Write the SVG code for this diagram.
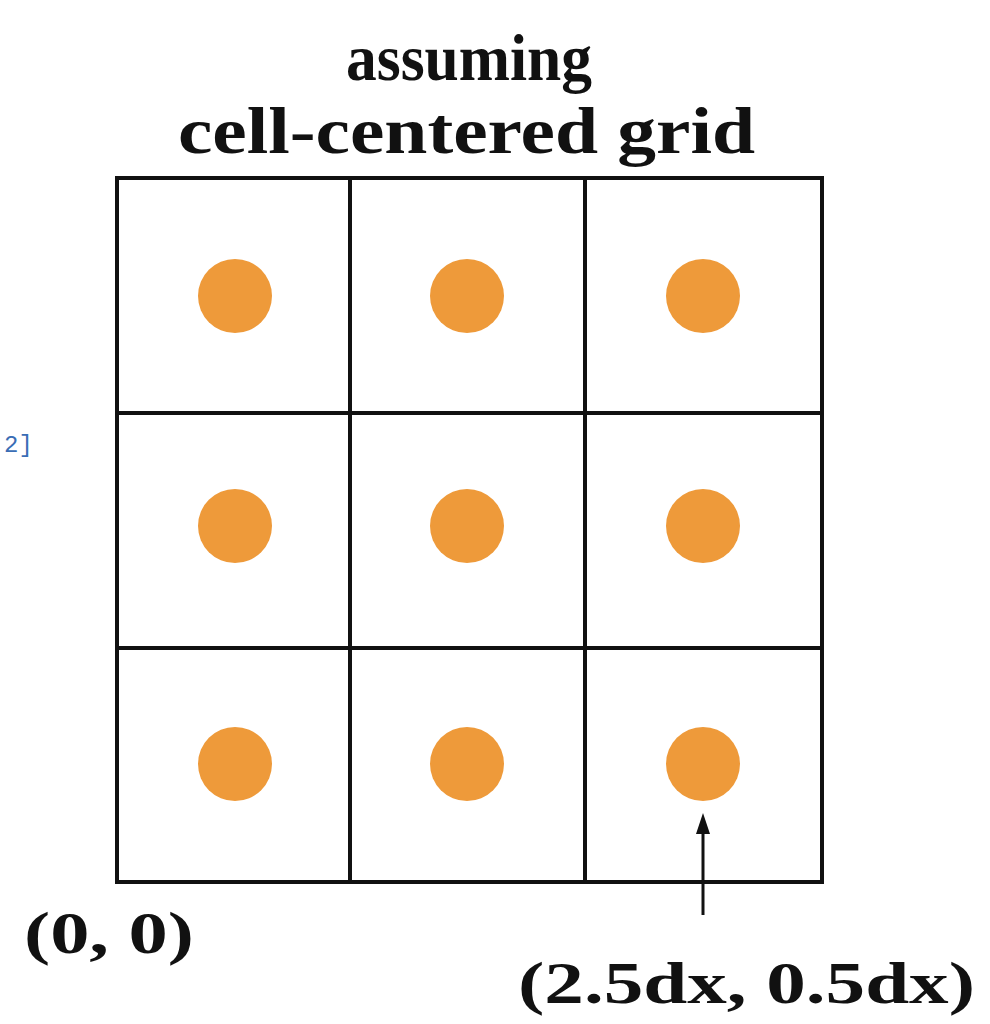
<svg xmlns="http://www.w3.org/2000/svg" width="990" height="1024" viewBox="0 0 990 1024">
<style>
.t{font-family:"Liberation Serif",serif;font-weight:bold;fill:#111}
.g{stroke:#111;stroke-width:4;fill:none}
.d{fill:#EE9A3A}
</style>
<rect width="990" height="1024" fill="#fff"/>
<text class="t" x="346" y="80" font-size="66" textLength="246" lengthAdjust="spacingAndGlyphs">assuming</text>
<text class="t" x="178" y="153" font-size="66" textLength="577" lengthAdjust="spacingAndGlyphs">cell-centered grid</text>
<text x="4" y="452" font-family="Liberation Mono,monospace" font-size="24" fill="#3a6db5">2]</text>
<g id="grid">
<rect class="g" x="117" y="178" width="705" height="704"/>
<line class="g" x1="350" y1="178" x2="350" y2="882"/>
<line class="g" x1="585" y1="178" x2="585" y2="882"/>
<line class="g" x1="117" y1="413" x2="822" y2="413"/>
<line class="g" x1="117" y1="648" x2="822" y2="648"/>
</g>
<g id="points">
<circle class="d" cx="235" cy="296" r="37"/><circle class="d" cx="467" cy="296" r="37"/><circle class="d" cx="703" cy="296" r="37"/>
<circle class="d" cx="235" cy="526" r="37"/><circle class="d" cx="467" cy="526" r="37"/><circle class="d" cx="703" cy="526" r="37"/>
<circle class="d" cx="235" cy="764" r="37"/><circle class="d" cx="467" cy="764" r="37"/><circle class="d" cx="703" cy="764" r="37"/>
</g>
<g id="connectors"><line x1="703" y1="915" x2="703" y2="830" stroke="#111" stroke-width="3"/><path d="M696,834 L703,813 L710,834 Z" fill="#111"/></g>
<text class="t" x="24" y="953" font-size="60" textLength="170" lengthAdjust="spacingAndGlyphs">(0, 0)</text>
<text class="t" x="518" y="1003" font-size="60" textLength="457" lengthAdjust="spacingAndGlyphs">(2.5dx, 0.5dx)</text>
</svg>
